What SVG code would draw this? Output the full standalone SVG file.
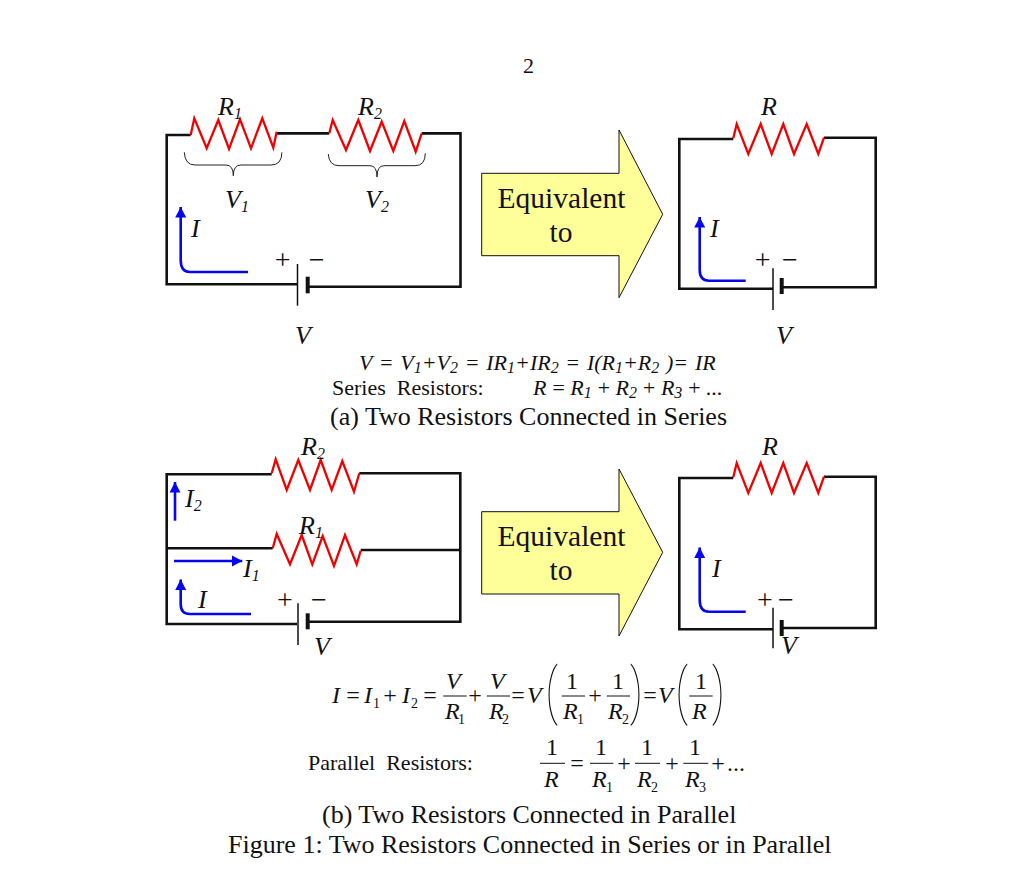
<svg xmlns="http://www.w3.org/2000/svg" width="1024" height="891" viewBox="0 0 1024 891">
<defs>
<marker id="ah" markerUnits="userSpaceOnUse" markerWidth="11" markerHeight="12" refX="10.500" refY="6" orient="auto"><path d="M0 0.500L10.500 6L0 11.500Z" fill="#0505f0"/></marker>
</defs>
<style>
text{font-family:"Liberation Serif","Times New Roman",serif;fill:#111}
.w{fill:none;stroke:#111;stroke-width:2.6;stroke-linejoin:miter}
.r{fill:none;stroke:#f00000;stroke-width:2.3;stroke-linejoin:miter}
.b1{stroke:#111;stroke-width:1.500;fill:none}
.b2{stroke:#111;stroke-width:4;fill:none}
.c{fill:none;stroke:#0505f0;stroke-width:2.6;marker-end:url(#ah)}
.br{fill:none;stroke:#222;stroke-width:1}
.ar{fill:#ffff99;stroke:#111;stroke-width:1}
.l{font-size:26px;font-style:italic}
.s{font-size:16px}
.ss{font-size:16px;font-style:italic}
.ps{font-size:28px;text-anchor:middle}
.eq{font-size:29.500px;text-anchor:middle}
.t{font-size:22px}
.ti{font-size:22px;font-style:italic}
.cap{font-size:26px}
.m{font-size:24px;font-style:italic}
.mu{font-size:24px}
.mc{font-size:24px;text-anchor:middle}
.ms{font-size:14px}
.bar{stroke:#111;stroke-width:1;fill:none}
.par{font-size:56px;font-family:Roboto,"Liberation Sans",sans-serif;font-weight:100}
</style>
<text id="page-number" class="t" x="523" y="73">2</text>

<g id="connectors">
<path class="w" d="M297 284.300H166.700V135H190.700"/>
<path class="w" d="M276.700 133.400H329.300"/>
<path class="w" d="M421.700 133.400H460.500V286.700H308"/>
<path class="w" d="M773 288.700H679.300V139H733.300"/>
<path class="w" d="M824 137.700H875.700V287.300H781.700"/>
<path class="w" d="M297 624H166.700V474.300H271.700"/>
<path class="w" d="M166.700 548.300H272.700"/>
<path class="w" d="M359.300 473.300H460.300V621.700H308"/>
<path class="w" d="M360.700 550H460.300"/>
<path class="w" d="M773 629.300H679.300V478H733.300"/>
<path class="w" d="M824 476.700H875.700V628H781.700"/>
<path class="c" d="M248 272H190Q180.700 272 180.700 260V207"/>
<path class="c" d="M745.700 280.700H709Q699.700 280.700 699.700 270V217"/>
<path class="c" d="M175 520.700V482"/>
<path class="c" d="M174 561H242.300"/>
<path class="c" d="M251 614H190Q180.700 614 180.700 604V579.500"/>
<path class="c" d="M745.700 611.700H709Q699.700 611.700 699.700 600V547.500"/>
</g>

<g id="s-r1"><path class="r" d="M190.700 135L194.300 118.300L206.700 148.300L218.300 120L229 149L240 119.300L251 148.300L262.300 118.300L273.300 147.700L276.700 131.700"/><text class="l" x="218" y="115">R<tspan class="ss" dy="4">1</tspan></text></g>
<g id="s-r2"><path class="r" d="M329.300 133.300L332.700 120L346 150L358.300 120L370 151L381.700 121.700L393.300 151L404.300 121L415.700 151.700L421.700 133.300"/><text class="l" x="358" y="115">R<tspan class="ss" dy="4">2</tspan></text></g>
<g id="s-v1"><path class="br" d="M184.300 152.300Q185 165 195 165H226Q233.300 165 233.300 175.700Q233.300 165 241 165H271Q281.900 165 281.900 152.300"/><text class="l" x="225" y="208">V<tspan class="ss" dy="4">1</tspan></text></g>
<g id="s-v2"><path class="br" d="M328.300 154Q329 165.700 339 165.700H370Q377 165.700 377 177Q377 165.700 384 165.700H415Q425.300 165.700 425.300 153.300"/><text class="l" x="365" y="208">V<tspan class="ss" dy="4">2</tspan></text></g>
<g id="s-battery"><path class="b1" d="M297.500 264V305.700"/><path class="b2" d="M307.700 276.700V293.300"/><text class="ps" x="282.700" y="269">+</text><text class="ps" x="316.700" y="269">−</text><text class="l" x="295" y="344">V</text></g>
<text id="s-i" class="l" x="191" y="237">I</text>

<g id="arrow-a"><path class="ar" d="M481.700 173.300H619V130L662.700 214.300L619 297.700V255.700H481.700Z"/><text class="eq" x="561.500" y="208">Equivalent</text><text class="eq" x="561" y="242">to</text></g>

<g id="sr-r"><path class="r" d="M733.300 138.300L736.700 124L748.300 154L760.700 124L771.700 154L783.300 124L794 154L806.700 124L818.300 154L824 137.700"/><text class="l" x="761" y="115">R</text></g>
<g id="sr-battery"><path class="b1" d="M773 268.300V310"/><path class="b2" d="M781.700 278V294"/><text class="ps" x="762.700" y="269">+</text><text class="ps" x="790" y="269">−</text><text class="l" x="776" y="344">V</text></g>
<text id="sr-i" class="l" x="710" y="237">I</text>

<g id="eq-a">
<text class="ti" x="359" y="370" xml:space="preserve" word-spacing="1.200">V = V<tspan class="s" dy="3">1</tspan><tspan dy="-3">+V</tspan><tspan class="s" dy="3">2</tspan><tspan dy="-3"> = IR</tspan><tspan class="s" dy="3">1</tspan><tspan dy="-3">+IR</tspan><tspan class="s" dy="3">2</tspan><tspan dy="-3"> = I(R</tspan><tspan class="s" dy="3">1</tspan><tspan dy="-3">+R</tspan><tspan class="s" dy="3">2</tspan><tspan dy="-3"> )= IR</tspan></text>
<text class="t" x="332" y="395" xml:space="preserve">Series  Resistors:</text>
<text class="ti" x="533" y="395" xml:space="preserve" word-spacing="-1">R = R<tspan class="s" dy="3">1</tspan><tspan dy="-3"> + R</tspan><tspan class="s" dy="3">2</tspan><tspan dy="-3"> + R</tspan><tspan class="s" dy="3">3</tspan><tspan dy="-3"> + ...</tspan></text>
<text class="cap" x="330" y="425">(a) Two Resistors Connected in Series</text>
</g>

<g id="p-r2"><path class="r" d="M271.700 473.300L275.700 459.300L286.700 490L298.300 460L310 490L320.700 460L331.700 490L342.300 461L354 491.700L359.300 473.300"/><text class="l" x="301" y="455">R<tspan class="ss" dy="4">2</tspan></text></g>
<g id="p-r1"><path class="r" d="M272.700 548.300L276.700 534L290 564.300L301.700 535L312.300 564.300L322.700 536L334 566L345 535L356.700 564.300L360.700 550.700"/><text class="l" x="299" y="534">R<tspan class="ss" dy="4">1</tspan></text></g>
<g id="p-battery"><path class="b1" d="M298 603.300V645"/><path class="b2" d="M307.700 613.300V629.300"/><text class="ps" x="285" y="609">+</text><text class="ps" x="319" y="609">−</text><text class="l" x="314" y="655">V</text></g>
<text id="p-i2" class="l" x="185" y="507">I<tspan class="ss" dy="4">2</tspan></text>
<text id="p-i1" class="l" x="243" y="577">I<tspan class="ss" dy="4">1</tspan></text>
<text id="p-i" class="l" x="198" y="608">I</text>

<g id="arrow-b"><path class="ar" d="M481.700 511.700H619V469L662.700 552.300L619 636V594H481.700Z"/><text class="eq" x="561.500" y="546">Equivalent</text><text class="eq" x="561" y="580">to</text></g>

<g id="pr-r"><path class="r" d="M733.300 477.300L736.700 463L748.300 493L760.700 463L771.700 493L783.300 463L794 493L806.700 463L818.300 493L824 476.700"/><text class="l" x="762" y="455">R</text></g>
<g id="pr-battery"><path class="b1" d="M773 607.700V648.300"/><path class="b2" d="M781.700 620V636"/><text class="ps" x="765" y="609">+</text><text class="ps" x="786" y="609">−</text><text class="l" x="781" y="654">V</text></g>
<text id="pr-i" class="l" x="712" y="577">I</text>

<g id="eq-b">
<text class="m" x="332" y="703">I</text><text class="mc" x="353" y="703">=</text>
<text class="m" x="364" y="703">I</text><text class="ms" x="373" y="708">1</text><text class="mc" x="390" y="703">+</text>
<text class="m" x="402" y="703">I</text><text class="ms" x="411" y="708">2</text><text class="mc" x="430" y="703">=</text>
<text class="m" x="446" y="689">V</text><path class="bar" d="M443.300 696H466.700"/><text class="m" x="445" y="719">R</text><text class="ms" x="458" y="724">1</text>
<text class="mc" x="475" y="703">+</text>
<text class="m" x="490" y="689">V</text><path class="bar" d="M486.700 696H510"/><text class="m" x="489" y="719">R</text><text class="ms" x="502" y="724">2</text>
<text class="mc" x="518" y="703">=</text><text class="m" x="527" y="703">V</text>
<text class="par" transform="translate(545.500 712) scale(.75 1.100)">(</text>
<text class="mc" x="572" y="689">1</text><path class="bar" d="M561.700 696H585"/><text class="m" x="563" y="719">R</text><text class="ms" x="577" y="724">1</text>
<text class="mc" x="595" y="703">+</text>
<text class="mc" x="618" y="689">1</text><path class="bar" d="M606.700 696H630"/><text class="m" x="608" y="719">R</text><text class="ms" x="622" y="724">2</text>
<text class="par" transform="translate(630 712) scale(.75 1.100)">)</text>
<text class="mc" x="650" y="703">=</text><text class="m" x="658" y="703">V</text>
<text class="par" transform="translate(675.500 712) scale(.75 1.100)">(</text>
<text class="mc" x="701" y="689">1</text><path class="bar" d="M689.300 696H712.700"/><text class="m" x="692" y="719">R</text>
<text class="par" transform="translate(712 712) scale(.75 1.100)">)</text>

<text class="t" x="308" y="770" xml:space="preserve">Parallel  Resistors:</text>
<text class="mc" x="552" y="755">1</text><path class="bar" d="M540 763.300H565"/><text class="m" x="544" y="787">R</text>
<text class="mc" x="577" y="771">=</text>
<text class="mc" x="601" y="755">1</text><path class="bar" d="M590 763.300H613.300"/><text class="m" x="592" y="787">R</text><text class="ms" x="606" y="792">1</text>
<text class="mc" x="624" y="771">+</text>
<text class="mc" x="647" y="755">1</text><path class="bar" d="M635 763.300H660"/><text class="m" x="637" y="787">R</text><text class="ms" x="651" y="792">2</text>
<text class="mc" x="672" y="771">+</text>
<text class="mc" x="695" y="755">1</text><path class="bar" d="M683.300 763.300H708.300"/><text class="m" x="685" y="787">R</text><text class="ms" x="699" y="792">3</text>
<text class="mc" x="718" y="771">+</text><text class="mu" x="727" y="771">...</text>
</g>

<g id="captions">
<text class="cap" x="322" y="823">(b) Two Resistors Connected in Parallel</text>
<text class="cap" x="228" y="853">Figure 1: Two Resistors Connected in Series or in Parallel</text>
</g>
</svg>
